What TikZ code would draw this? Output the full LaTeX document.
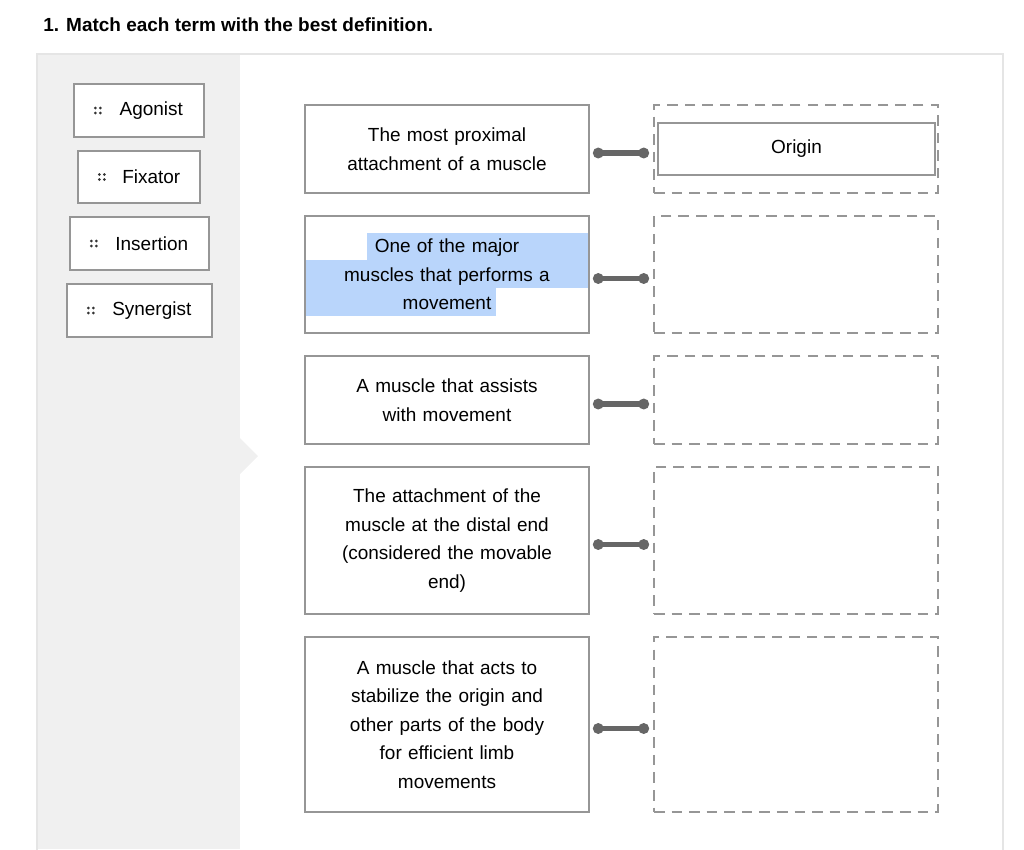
\documentclass[tikz,border=0pt]{standalone}
\usepackage{fontspec}
\setmainfont{Liberation Sans}
\usetikzlibrary{positioning, arrows.meta}
\definecolor{panel-gray}{RGB}{240,240,240}
\definecolor{box-line}{RGB}{150,150,150}
\definecolor{knob-gray}{RGB}{102,102,102}
\definecolor{hl-blue}{RGB}{185,213,251}
\tikzset{every picture/.style={line width=0.6pt}}

\begin{document}
\begin{tikzpicture}
    [x=0.02cm, y=-0.02cm,
    term/.style = {rectangle, draw=box-line, fill=white, inner sep=0pt,
            font=\fontsize{10.8}{16}\selectfont},
    defn/.style = {rectangle, draw=box-line, fill=white, inner sep=0pt, align=center,
            minimum width=284*0.02cm, text width=240*0.02cm,
            font=\fontsize{10.8}{16.2}\selectfont},
    slot/.style = {rectangle, draw=box-line, dashed, dash pattern=on 6pt off 4pt,
            line width=1.2pt, inner sep=0pt, minimum width=284*0.02cm},
    knob/.style = {line width=3pt, draw=knob-gray, {Circle[length=6pt]}-{Circle[length=6pt]}},
    ]

\useasboundingbox (0,0) rectangle (1024,849);

% panel
\draw[draw=gray!20] (37,54) rectangle (1003,860);
\fill[panel-gray] (37.5,54.5) rectangle (240,849);
\fill[panel-gray] (240,438) -- (258,456) -- (240,474) -- cycle;

\node[anchor=west, font=\bfseries\fontsize{10.8}{13}\selectfont] (title) at (37,25)
    {1. Match each term with the best definition.};

% terms
\foreach \nm/\txt/\xa/\ya/\xb/\yb in {agonist/Agonist/74/84/204/137, fixator/Fixator/78/151/200/203,
        insertion/Insertion/70/217/209/270, synergist/Synergist/67/284/212/337} {
    \node[term, minimum width={(\xb-\xa)*0.02cm}, minimum height={(\yb-\ya)*0.02cm}]
        (\nm) at ({(\xa+\xb)/2},{(\ya+\yb)/2}) {\hspace{14pt}\txt};
    \path (\nm.west) ++(22,-2.5) coordinate (\nm-g);
    \foreach \dx/\dy in {0/0,5/0,0/5,5/5}
        \fill[black!80] (\nm-g) ++(\dx,\dy) circle (1.5);
}

% highlight behind second definition
\fill[hl-blue] (367,233) rectangle (589,260);
\fill[hl-blue] (305,260) rectangle (589,288);
\fill[hl-blue] (305,288) rectangle (496,316);

% definitions, slots and knobs
\foreach \i/\ya/\yb/\txt in {1/105/193/{The most proximal\\attachment of a muscle},
        2/216/333/{One of the major\\muscles that performs a\\movement},
        3/356/444/{A muscle that assists\\with movement},
        4/467/614/{The attachment of the\\muscle at the distal end\\(considered the movable\\end)},
        5/637/812/{A muscle that acts to\\stabilize the origin and\\other parts of the body\\for efficient limb\\movements}} {
    \ifnum\i=2
      \node[defn, fill=none, minimum height={(\yb-\ya)*0.02cm}] (d\i) at (447,{(\ya+\yb)/2}) {\txt};
    \else
      \node[defn, minimum height={(\yb-\ya)*0.02cm}] (d\i) at (447,{(\ya+\yb)/2}) {\txt};
    \fi
    \node[slot, minimum height={(\yb-\ya)*0.02cm}] (s\i) at (796,{(\ya+\yb)/2}) {};
    \coordinate (k\i) at (593,{(\ya+\yb)/2+4});
    \coordinate (e\i) at (649,{(\ya+\yb)/2+4});
    \draw[knob] (k\i) -- (e\i);
}

\node[term, minimum width=277*0.02cm, minimum height=52*0.02cm] (origin) at (796.5,149) {Origin};

\end{tikzpicture}
\end{document}
